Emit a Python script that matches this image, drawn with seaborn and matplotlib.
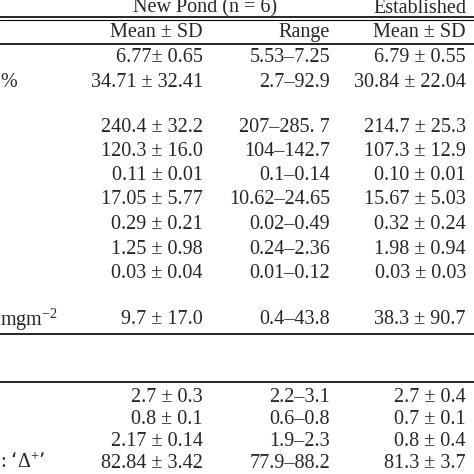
import matplotlib
matplotlib.use('Agg')
import matplotlib.pyplot as plt
import seaborn as sns

sns.set_style('white')
plt.rcParams['font.family'] = ['Liberation Serif', 'DejaVu Serif']

# rows of the table (pixel rows from the top of the crop)
row_y = [57, 82, 127, 152, 176, 200, 224, 249, 274, 320, 398, 419, 441, 463]
new_mean = ['6.77± 0.65', '34.71 ± 32.41', '240.4 ± 32.2', '120.3 ± 16.0', '0.11 ± 0.01',
            '17.05 ± 5.77', '0.29 ± 0.21', '1.25 ± 0.98', '0.03 ± 0.04', '9.7 ± 17.0',
            '2.7 ± 0.3', '0.8 ± 0.1', '2.17 ± 0.14', '82.84 ± 3.42']
new_range = ['5.53–7.25', '2.7–92.9', '207–285. 7', '104–142.7', '0.1–0.14',
             '10.62–24.65', '0.02–0.49', '0.24–2.36', '0.01–0.12', '0.4–43.8',
             '2.2–3.1', '0.6–0.8', '1.9–2.3', '77.9–88.2']
est_mean = ['6.79 ± 0.55', '30.84 ± 22.04', '214.7 ± 25.3', '107.3 ± 12.9', '0.10 ± 0.01',
            '15.67 ± 5.03', '0.32 ± 0.24', '1.98 ± 0.94', '0.03 ± 0.03', '38.3 ± 90.7',
            '2.7 ± 0.4', '0.7 ± 0.1', '0.8 ± 0.4', '81.3 ± 3.7']
left_labels = {82: '%', 320: 'mgm$^{\\mathregular{-2}}$', 463: ': ‘Δ$^{\\mathregular{+}}$’'}

fig = plt.figure(figsize=(4.74, 4.74), dpi=100)
ax = fig.add_axes([0, 0, 1, 1])
ax.set_xlim(0, 474)
ax.set_ylim(474, 0)
ax.axis('off')

fs = 14.5
ax.text(205, 8, 'New Pond (n = 6)', ha='center', va='center', fontsize=fs)
ax.text(466, 8, 'Established', ha='right', va='center', fontsize=fs)
ax.text(203, 32, 'Mean ± SD', ha='right', va='center', fontsize=fs)
ax.text(330, 32, 'Range', ha='right', va='center', fontsize=fs)
ax.text(466, 32, 'Mean ± SD', ha='right', va='center', fontsize=fs)

for y, a, b, c in zip(row_y, new_mean, new_range, est_mean):
    ax.text(203, y, a, ha='right', va='center', fontsize=fs)
    ax.text(330, y, b, ha='right', va='center', fontsize=fs)
    ax.text(466, y, c, ha='right', va='center', fontsize=fs)

for y, lab in left_labels.items():
    ax.text(0, y, lab, ha='left', va='center', fontsize=fs)

# horizontal rules
ax.axhline(17, color='black', lw=1.2)
ax.axhline(20, color='black', lw=0.8)
ax.axhline(44, color='black', lw=1.2)
ax.axhline(334, color='black', lw=1.2)
ax.axhline(382, color='black', lw=1.2)

fig.savefig('out.png', dpi=100, facecolor='white')
